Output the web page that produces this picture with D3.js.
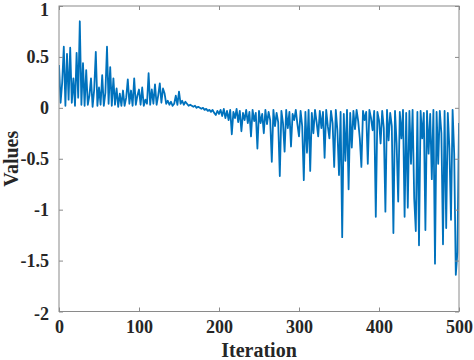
<!DOCTYPE html>
<html><head><meta charset="utf-8">
<script src="https://cdn.jsdelivr.net/npm/d3@7"></script>
<style>body{margin:0;background:#fff}svg{display:block}</style>
</head><body>
<svg id="c" width="474" height="360"></svg>
<script>
// Data: value every 2 iterations (iterations 0,2,...,500)
const iterStep = 2;
const values = [
 0.42,0.05,0.25,0.60,0.02,0.53,0.08,0.59,0.05,0.29,
 0.02,0.54,0.10,0.85,0.03,0.44,0.02,0.37,0.03,0.12,
 0.29,0.01,0.18,0.55,0.02,0.20,0.03,0.32,0.02,0.15,
 0.60,0.04,0.40,0.02,0.29,0.03,0.19,0.01,0.14,0.02,
 0.17,0.02,0.10,0.28,0.04,0.17,0.02,0.29,0.03,0.12,
 0.18,0.03,0.20,0.02,0.08,0.04,0.34,0.03,0.18,0.04,
 0.23,0.03,0.12,0.24,0.05,0.19,0.14,0.04,0.07,0.03,
 0.06,0.02,0.04,0.12,0.03,0.16,0.04,0.07,0.03,0.06,
 0.04,0.02,0.03,0.02,0.01,0.02,0.00,0.01,0.00,-0.01,
 0.00,-0.02,-0.01,-0.03,-0.02,-0.04,-0.02,-0.05,-0.07,-0.03,
 -0.06,-0.02,-0.08,-0.01,-0.10,-0.03,-0.12,-0.02,-0.26,-0.04,
 -0.10,-0.01,-0.14,-0.03,-0.23,-0.05,-0.12,-0.02,-0.15,-0.04,
 -0.28,-0.02,-0.13,-0.05,-0.40,-0.03,-0.15,-0.06,-0.25,-0.02,
 -0.16,-0.04,-0.12,-0.53,-0.02,-0.18,-0.05,-0.14,-0.67,-0.03,
 -0.15,-0.43,-0.02,-0.20,-0.04,-0.38,-0.06,-0.12,-0.02,-0.16,
 -0.28,-0.03,-0.18,-0.71,-0.04,-0.44,-0.02,-0.62,-0.05,-0.25,
 -0.02,-0.14,-0.28,-0.03,-0.20,-0.04,-0.49,-0.02,-0.18,-0.30,
 -0.03,-0.15,-0.58,-0.02,-0.22,-0.66,-0.04,-1.27,-0.06,-0.52,
 -0.02,-0.80,-0.05,-0.39,-0.03,-0.21,-0.02,-0.13,-0.30,-0.58,
 -0.03,-0.12,-0.04,-0.55,-0.02,-0.10,-0.22,-0.03,-1.07,-0.04,
 -0.12,-0.35,-0.03,-0.20,-1.02,-0.02,-0.32,-0.05,-0.18,-1.23,
 -0.03,-0.35,-0.92,-0.04,-0.30,-0.02,-1.07,-0.05,-0.98,-0.03,
 -0.55,-0.02,-0.89,-1.21,-0.04,-1.35,-0.03,-0.30,-0.05,-1.20,
 -0.03,-0.45,-0.06,-0.70,-0.02,-1.53,-0.04,-0.55,-0.03,-0.25,
 -1.34,-0.03,-1.18,-0.05,-0.40,-1.10,-0.02,-0.45,-1.64,-1.42,
 -0.15
];
const xTicks = [0,100,200,300,400,500];
const yTicks = [1,0.5,0,-0.5,-1,-1.5,-2];
const xLabel = "Iteration";
const yLabel = "Values";

const L=59, R=459, T=6, B=311.5;
const svg = d3.select("#c");
const x = d3.scaleLinear().domain([0,500]).range([L,R]);
const y = d3.scaleLinear().domain([-2,1]).range([B,T]);
const font = "Liberation Serif";
const axisCol = "#8a8a8a";

// data line
const clipId="clp";
svg.append("clipPath").attr("id",clipId).append("rect").attr("x",L).attr("y",T).attr("width",R-L).attr("height",B-T);
svg.append("path")
  .datum(values)
  .attr("clip-path",`url(#${clipId})`)
  .attr("fill","none").attr("stroke","#0072BD").attr("stroke-width",1.8)
  .attr("stroke-linejoin","round")
  .attr("d", d3.line().x((d,i)=>x(i*iterStep)).y(d=>y(d)));

function styleAxis(g, showText){
  g.select(".domain").remove();
  g.selectAll(".tick line").attr("stroke",axisCol).attr("stroke-width",1);
  g.selectAll(".tick text").style("font-family",font).style("font-weight","bold")
    .style("font-size","18px").attr("fill","#262626");
  if(!showText) g.selectAll(".tick text").remove();
}
const fmt = d=>String(d);
svg.append("g").attr("transform",`translate(0,${B})`)
  .call(d3.axisBottom(x).tickValues(xTicks).tickSize(-4).tickPadding(9).tickFormat(fmt))
  .call(g=>styleAxis(g,true));
svg.append("g").attr("transform",`translate(0,${T})`)
  .call(d3.axisTop(x).tickValues(xTicks).tickSize(-4))
  .call(g=>styleAxis(g,false));
const yAx = svg.append("g").attr("transform",`translate(${L},0)`)
  .call(d3.axisLeft(y).tickValues(yTicks).tickSize(-4).tickPadding(10).tickFormat(fmt))
  .call(g=>styleAxis(g,true));
yAx.selectAll(".tick text").filter(d=>d===1).attr("y",4);
yAx.selectAll(".tick text").filter(d=>d===-2).attr("y",2);
svg.append("g").attr("transform",`translate(${R},0)`)
  .call(d3.axisRight(y).tickValues(yTicks).tickSize(-4))
  .call(g=>styleAxis(g,false));

// box
svg.append("rect").attr("x",L).attr("y",T).attr("width",R-L).attr("height",B-T)
  .attr("fill","none").attr("stroke",axisCol).attr("stroke-width",1);

svg.append("text").attr("x",(L+R)/2).attr("y",357).attr("text-anchor","middle")
  .style("font-family",font).style("font-weight","bold").style("font-size","20px").attr("fill","#262626")
  .text(xLabel);
svg.append("text").attr("transform",`translate(18,${(T+B)/2}) rotate(-90)`).attr("text-anchor","middle")
  .style("font-family",font).style("font-weight","bold").style("font-size","20px").attr("fill","#262626")
  .text(yLabel);
</script>
</body></html>
